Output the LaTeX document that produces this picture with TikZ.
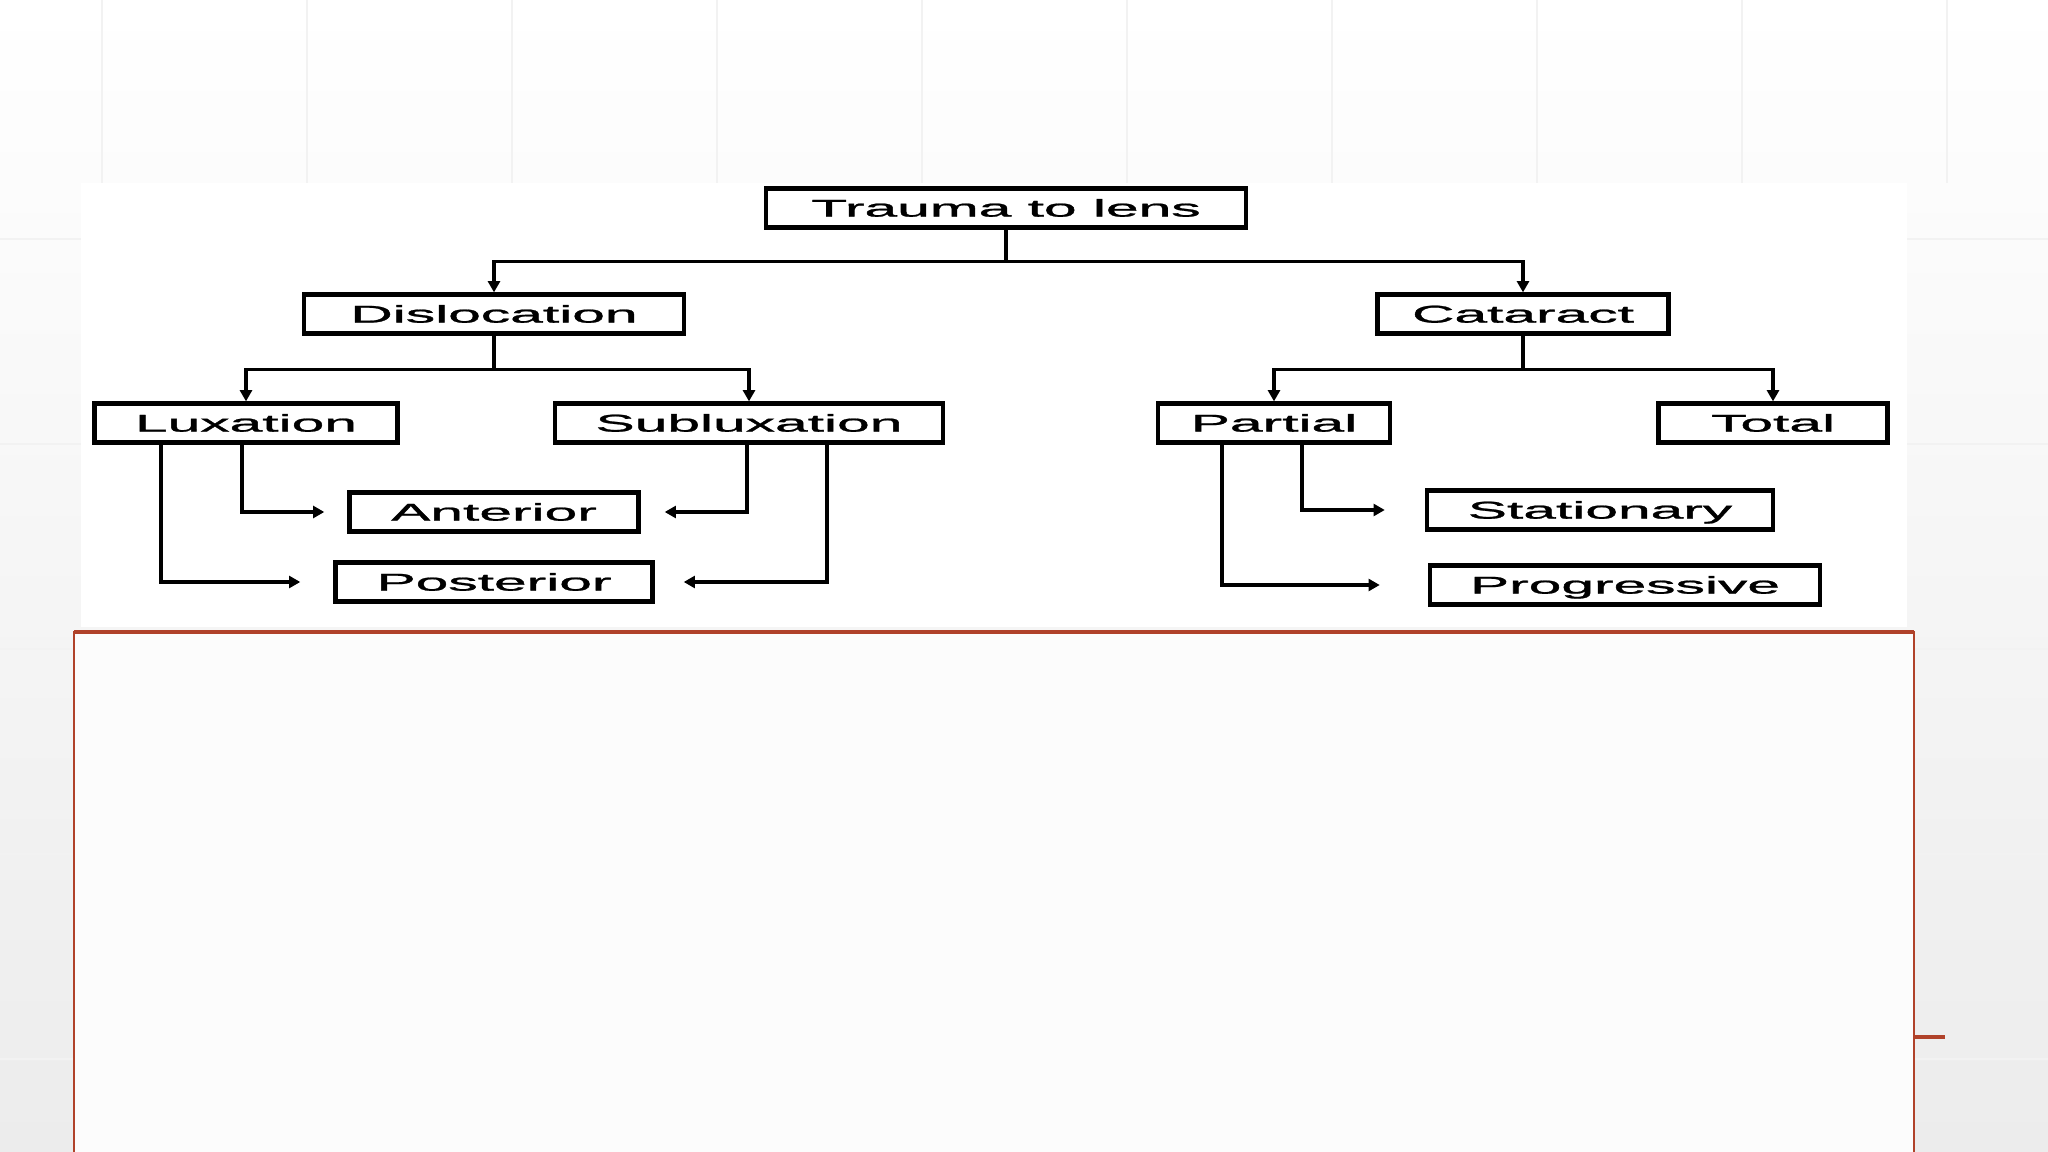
\documentclass[tikz,border=0pt]{standalone}
\usepackage{fontspec}
\setmainfont{Liberation Sans}
\newfontfamily\boxfont[FakeBold=0.9]{Liberation Sans}
\usepackage{graphicx}
\usetikzlibrary{arrows.meta}

\definecolor{slideframe}{RGB}{176,66,42}
\definecolor{slidegrey}{RGB}{236,236,236}
\definecolor{placefill}{RGB}{252,252,252}
% the printed labels are stretched sideways
\newcommand{\wide}[1]{\scalebox{2.42}[1]{#1}}

\begin{document}
\begin{tikzpicture}[x=0.01cm, y=-0.01cm,
    box/.style={draw, line width=1.2pt, fill=white, inner sep=0pt,
        minimum height=0.39cm, text height=0.172cm, text depth=0pt,
        font=\boxfont\fontsize{6.9}{8}\selectfont},
    conn/.style={line width=1pt, -{Triangle[length=3.2pt,width=3.4pt]}}]
    \useasboundingbox (0,0) rectangle (2048,1152);
    % slide background with faint pattern
    \shade[top color=white, bottom color=slidegrey] (0,0) rectangle (2048,1152);
    \foreach \x in {102,307,...,1947}
        \draw[black!5, line width=0.6pt] (\x,0) -- (\x,183);
    \foreach \y in {239,444,649,854,1059}
        \draw[black!5, line width=0.6pt] (0,\y) -- (2048,\y);
    \fill[white] (81,183) rectangle (1907,627);
    % content placeholder
    \draw[slideframe, line width=0.7pt, fill=placefill] (74,632) rectangle (1914,1160);
    \draw[slideframe, line width=1.2pt] (74,632) -- (1914,632);
    \draw[slideframe, line width=1.2pt] (1914,1037) -- (1945,1037);

    % tree
    \node[box, minimum width=4.80cm] (trauma) at (1006,208) {\wide{Trauma to lens}};
    \node[box, minimum width=3.80cm] (disl) at (494,314) {\wide{Dislocation}};
    \node[box, minimum width=2.91cm] (cat) at (1523,314) {\wide{Cataract}};
    \node[box, minimum width=3.03cm] (lux) at (246,423) {\wide{Luxation}};
    \node[box, minimum width=3.88cm] (sublux) at (749,423) {\wide{Subluxation}};
    \node[box, minimum width=2.32cm] (partial) at (1274,423) {\wide{Partial}};
    \node[box, minimum width=2.29cm] (total) at (1773,423) {\wide{Total}};
    \node[box, minimum width=2.89cm] (ant) at (494,512) {\wide{Anterior}};
    \node[box, minimum width=3.17cm] (post) at (494,582) {\wide{Posterior}};
    \node[box, minimum width=3.46cm] (stat) at (1600,510) {\wide{Stationary}};
    \node[box, minimum width=3.90cm] (prog) at (1625,585) {\wide{Progressive}};

    % branches
    \draw[conn] (trauma.south) -- ++(0,32) -| (disl.north);
    \draw[conn] (trauma.south) -- ++(0,32) -| (cat.north);
    \draw[conn] (disl.south) -- ++(0,34) -| (lux.north);
    \draw[conn] (disl.south) -- ++(0,34) -| (sublux.north);
    \draw[conn] (cat.south) -- ++(0,34) -| (partial.north);
    \draw[conn] (cat.south) -- ++(0,34) -| (total.north);

    % side arrows
    \draw[conn, shorten >=0.23cm] ([xshift=-0.04cm]lux.south) |- (ant.west);
    \draw[conn, shorten >=0.33cm] ([xshift=-0.85cm]lux.south) |- (post.west);
    \draw[conn, shorten >=0.24cm] ([xshift=-0.02cm]sublux.south) |- (ant.east);
    \draw[conn, shorten >=0.29cm] ([xshift=0.78cm]sublux.south) |- (post.east);
    \draw[conn, shorten >=0.40cm] ([xshift=0.28cm]partial.south) |- (stat.west);
    \draw[conn, shorten >=0.48cm] ([xshift=-0.52cm]partial.south) |- (prog.west);
\end{tikzpicture}
\end{document}
